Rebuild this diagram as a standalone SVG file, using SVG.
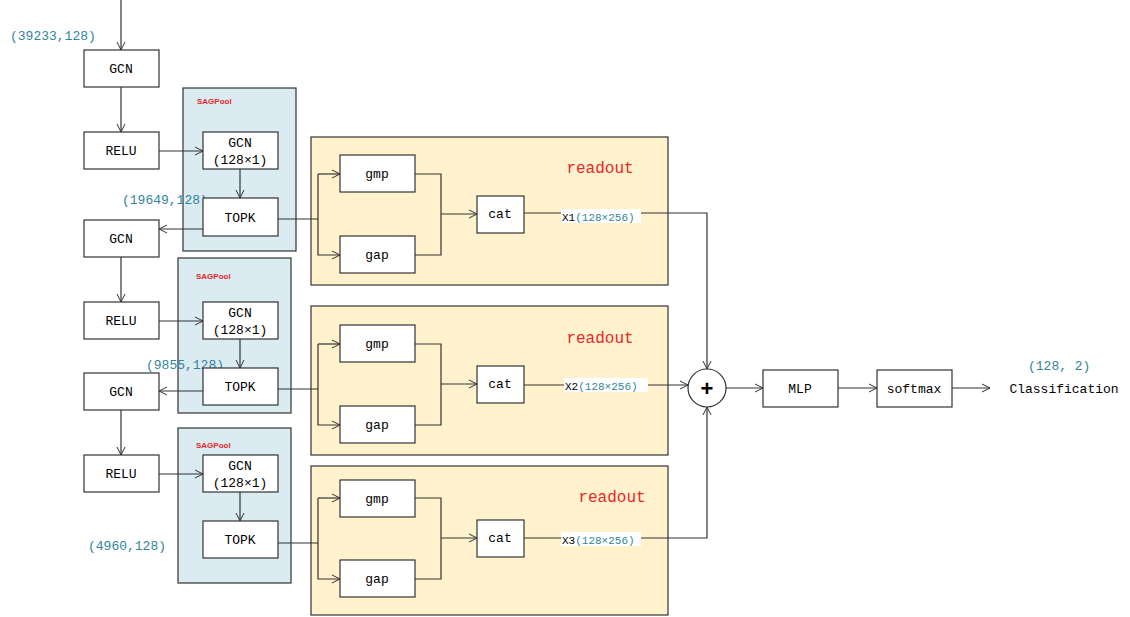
<svg xmlns="http://www.w3.org/2000/svg" width="1130" height="617" viewBox="0 0 1130 617">
<defs>
<marker id="a" markerWidth="10" markerHeight="10" refX="9" refY="5" orient="auto" markerUnits="userSpaceOnUse"><path d="M1,1 L9,5 L1,9" fill="none" stroke="#333" stroke-width="1"/></marker>
<style>
.b{fill:#fff;stroke:#333;stroke-width:1.2}
.sag{fill:#daebf2;stroke:#333;stroke-width:1.2}
.ro{fill:#fff2cc;stroke:#333;stroke-width:1.2}
.t{font-family:"Liberation Mono","DejaVu Sans Mono",monospace;font-size:13px;fill:#000;text-anchor:middle}
.c{font-family:"Liberation Mono",monospace;font-size:13px;fill:#31849b}
.r{font-family:"Liberation Mono",monospace;font-size:16px;fill:#e8262b;text-anchor:middle}
.s{font-family:"Liberation Sans",sans-serif;font-size:8px;fill:#e8262b;font-weight:bold}
.l{fill:none;stroke:#333;stroke-width:1.2}
</style>
</defs>
<rect width="1130" height="617" fill="#fff"/>
<g id="sag1"><rect class="sag" x="183" y="88" width="113" height="163"/><text class="s" x="197" y="104">SAGPool</text></g>
<g id="sag2"><rect class="sag" x="178" y="258" width="113" height="155"/><text class="s" x="196" y="279">SAGPool</text></g>
<g id="sag3"><rect class="sag" x="178" y="428" width="113" height="155"/><text class="s" x="196" y="448">SAGPool</text></g>
<g id="ro1"><rect class="ro" x="311" y="137" width="357" height="148"/><text class="r" x="600" y="173">readout</text></g>
<g id="ro2"><rect class="ro" x="311" y="306" width="357" height="149"/><text class="r" x="600" y="343">readout</text></g>
<g id="ro3"><rect class="ro" x="311" y="466" width="357" height="149"/><text class="r" x="612" y="502">readout</text></g>
<g id="connectors">
<path class="l" d="M121,0 V50" marker-end="url(#a)"/>
<path class="l" d="M121,87 V132" marker-end="url(#a)"/>
<path class="l" d="M159,151 H203" marker-end="url(#a)"/>
<path class="l" d="M240,169 V198" marker-end="url(#a)"/>
<path class="l" d="M203,229 H159" marker-end="url(#a)"/>
<path class="l" d="M121,257 V302" marker-end="url(#a)"/>
<path class="l" d="M159,321 H203" marker-end="url(#a)"/>
<path class="l" d="M240,339 V368" marker-end="url(#a)"/>
<path class="l" d="M203,391 H159" marker-end="url(#a)"/>
<path class="l" d="M121,410 V455" marker-end="url(#a)"/>
<path class="l" d="M159,474 H203" marker-end="url(#a)"/>
<path class="l" d="M240,492 V521" marker-end="url(#a)"/>
<path class="l" d="M278,219 H318"/><path class="l" d="M318,174 H340" marker-end="url(#a)"/><path class="l" d="M318,174 V255 H340" marker-end="url(#a)"/>
<path class="l" d="M415,174 H441 V255 H415"/><path class="l" d="M441,214 H477" marker-end="url(#a)"/>
<path class="l" d="M278,389 H318"/><path class="l" d="M318,344 H340" marker-end="url(#a)"/><path class="l" d="M318,344 V425 H340" marker-end="url(#a)"/>
<path class="l" d="M415,344 H441 V425 H415"/><path class="l" d="M441,384 H477" marker-end="url(#a)"/>
<path class="l" d="M278,543 H318"/><path class="l" d="M318,498 H340" marker-end="url(#a)"/><path class="l" d="M318,498 V579 H340" marker-end="url(#a)"/>
<path class="l" d="M415,498 H441 V579 H415"/><path class="l" d="M441,538 H477" marker-end="url(#a)"/>
<path class="l" d="M524,213 H707 V369" marker-end="url(#a)"/>
<path class="l" d="M524,385 H688" marker-end="url(#a)"/>
<path class="l" d="M524,538 H707 V407" marker-end="url(#a)"/>
<path class="l" d="M726,388 H763" marker-end="url(#a)"/>
<path class="l" d="M838,388 H877" marker-end="url(#a)"/>
<path class="l" d="M952,388 H990" marker-end="url(#a)"/>
</g>
<g id="labels">
<text class="c" x="10" y="40">(39233,128)</text>
<text class="c" x="122" y="204">(19649,128)</text>
<text class="c" x="146" y="369">(9855,128)</text>
<text class="c" x="88" y="550">(4960,128)</text>
<rect x="561" y="209" width="80" height="14" fill="#fff"/>
<text x="562" y="221" font-family="Liberation Mono,monospace" font-size="11"><tspan fill="#000">X1</tspan><tspan fill="#31849b">(128×256)</tspan></text>
<rect x="564" y="378" width="84" height="14" fill="#fff"/>
<text x="565" y="390" font-family="Liberation Mono,monospace" font-size="11"><tspan fill="#000">X2</tspan><tspan fill="#31849b">(128×256)</tspan></text>
<rect x="561" y="532" width="80" height="14" fill="#fff"/>
<text x="562" y="544" font-family="Liberation Mono,monospace" font-size="11"><tspan fill="#000">X3</tspan><tspan fill="#31849b">(128×256)</tspan></text>
<text class="c" x="1028" y="370">(128, 2)</text>
<text class="t" x="1064" y="393">Classification</text>
</g>
<g id="gcn1"><rect class="b" x="84" y="50" width="75" height="37"/><text class="t" x="121" y="73">GCN</text></g>
<g id="relu1"><rect class="b" x="84" y="132" width="75" height="37"/><text class="t" x="121" y="155">RELU</text></g>
<g id="gcn2"><rect class="b" x="84" y="220" width="75" height="37"/><text class="t" x="121" y="243">GCN</text></g>
<g id="relu2"><rect class="b" x="84" y="302" width="75" height="37"/><text class="t" x="121" y="325">RELU</text></g>
<g id="gcn3"><rect class="b" x="84" y="373" width="75" height="37"/><text class="t" x="121" y="396">GCN</text></g>
<g id="relu3"><rect class="b" x="84" y="455" width="75" height="37"/><text class="t" x="121" y="478">RELU</text></g>
<g id="sgcn1"><rect class="b" x="203" y="132" width="75" height="37"/><text class="t" x="240" y="147">GCN</text><text class="t" x="240" y="164">(128×1)</text></g>
<g id="topk1"><rect class="b" x="203" y="198" width="75" height="38"/><text class="t" x="240" y="222">TOPK</text></g>
<g id="sgcn2"><rect class="b" x="203" y="302" width="75" height="37"/><text class="t" x="240" y="317">GCN</text><text class="t" x="240" y="334">(128×1)</text></g>
<g id="topk2"><rect class="b" x="203" y="368" width="75" height="37"/><text class="t" x="240" y="391">TOPK</text></g>
<g id="sgcn3"><rect class="b" x="203" y="455" width="75" height="37"/><text class="t" x="240" y="470">GCN</text><text class="t" x="240" y="487">(128×1)</text></g>
<g id="topk3"><rect class="b" x="203" y="521" width="75" height="37"/><text class="t" x="240" y="544">TOPK</text></g>
<g id="gmp1"><rect class="b" x="340" y="155" width="75" height="37"/><text class="t" x="377" y="178">gmp</text></g>
<g id="gap1"><rect class="b" x="340" y="236" width="75" height="37"/><text class="t" x="377" y="259">gap</text></g>
<g id="cat1"><rect class="b" x="477" y="196" width="47" height="37"/><text class="t" x="500" y="218">cat</text></g>
<g id="gmp2"><rect class="b" x="340" y="325" width="75" height="37"/><text class="t" x="377" y="348">gmp</text></g>
<g id="gap2"><rect class="b" x="340" y="406" width="75" height="37"/><text class="t" x="377" y="429">gap</text></g>
<g id="cat2"><rect class="b" x="477" y="366" width="47" height="37"/><text class="t" x="500" y="388">cat</text></g>
<g id="gmp3"><rect class="b" x="340" y="480" width="75" height="37"/><text class="t" x="377" y="503">gmp</text></g>
<g id="gap3"><rect class="b" x="340" y="560" width="75" height="37"/><text class="t" x="377" y="583">gap</text></g>
<g id="cat3"><rect class="b" x="477" y="520" width="47" height="37"/><text class="t" x="500" y="542">cat</text></g>
<g id="plus"><circle cx="707" cy="388" r="19" class="b"/><text x="707" y="396" text-anchor="middle" font-family="Liberation Sans,sans-serif" font-size="22" font-weight="bold">+</text></g>
<g id="mlp"><rect class="b" x="763" y="370" width="75" height="37"/><text class="t" x="800" y="393">MLP</text></g>
<g id="softmax"><rect class="b" x="877" y="370" width="75" height="37"/><text class="t" x="914" y="393">softmax</text></g>
</svg>
